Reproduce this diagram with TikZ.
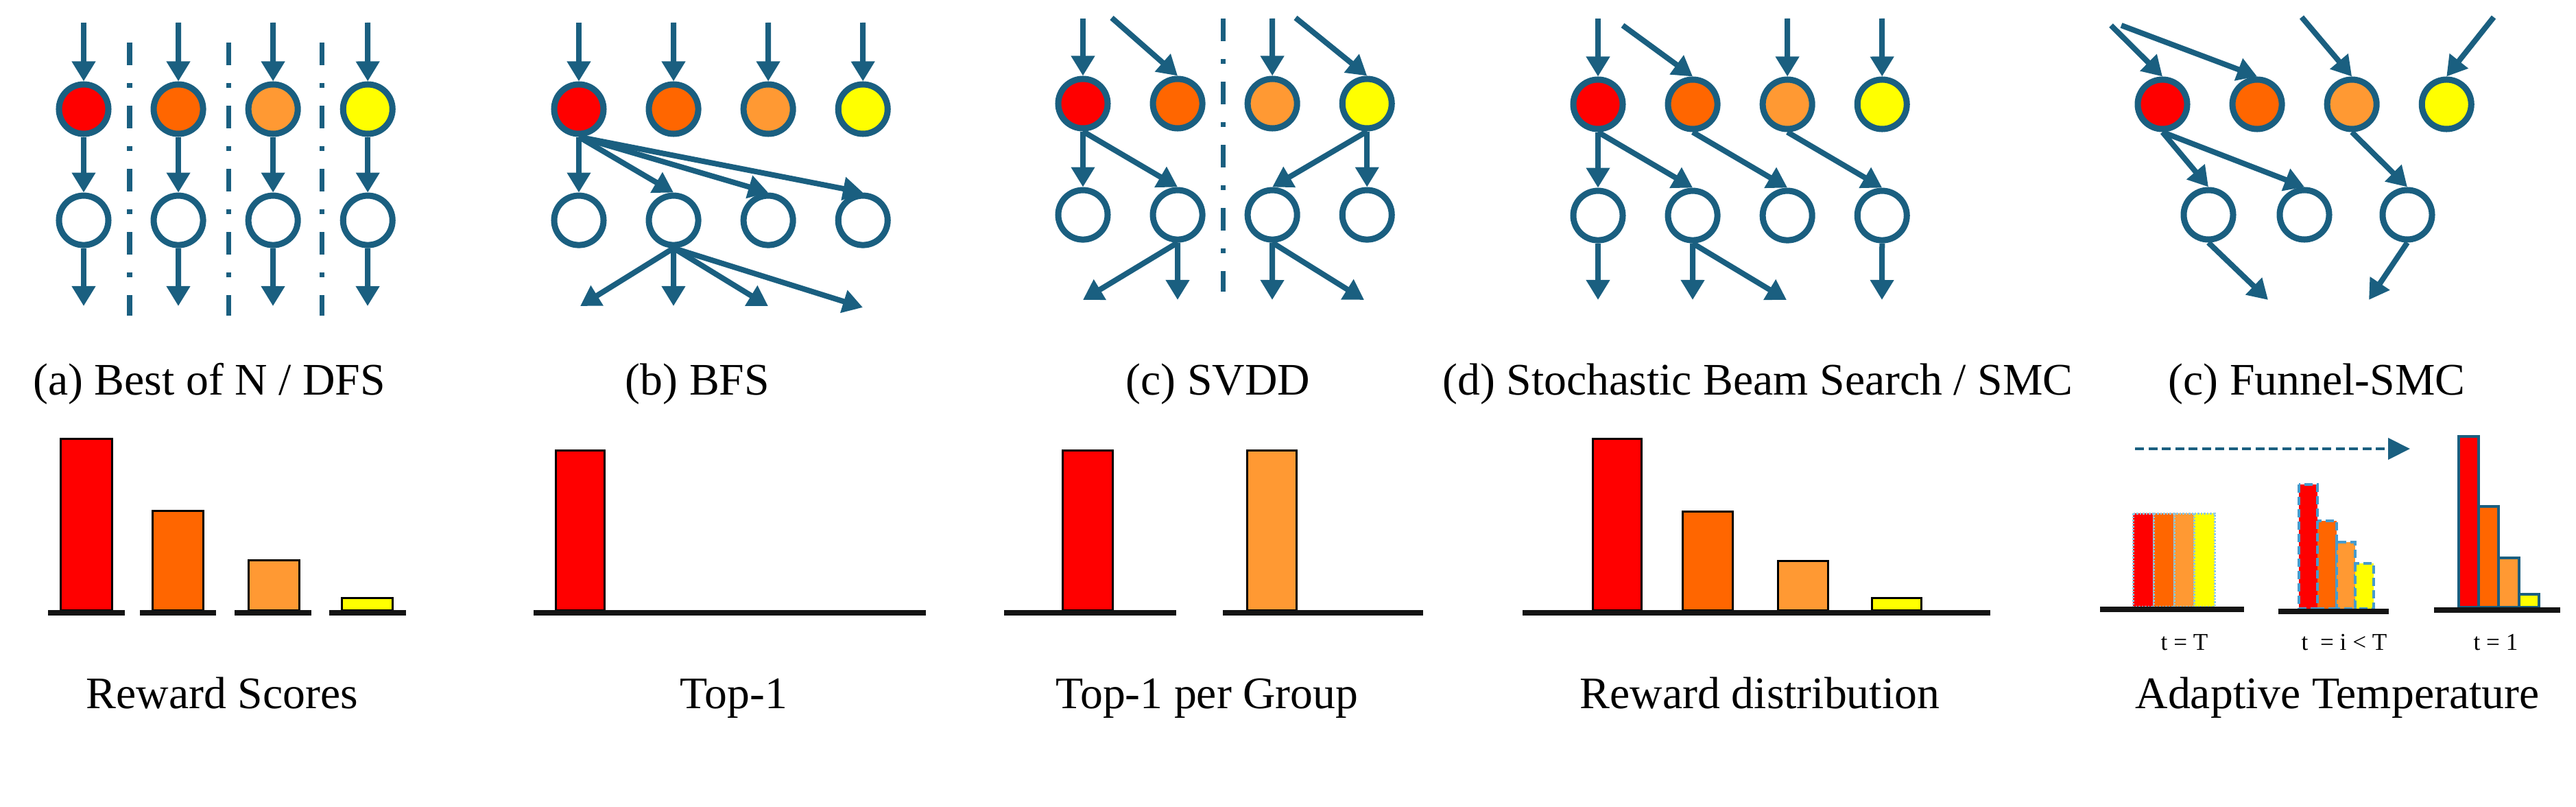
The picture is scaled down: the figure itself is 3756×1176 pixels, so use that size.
\documentclass[tikz,border=0pt]{standalone}
\usepackage{fontspec}
\setmainfont{Liberation Serif}
\usepackage{tikz}
\usetikzlibrary{arrows.meta}

\definecolor{edgeblue}{RGB}{26,95,128}
\definecolor{redbar}{RGB}{255,0,0}
\definecolor{orangebar}{RGB}{255,102,0}
\definecolor{lightbar}{RGB}{255,153,51}
\definecolor{yellowbar}{RGB}{255,255,0}
\definecolor{dotblue}{RGB}{140,200,232}
\definecolor{dashblue}{RGB}{70,155,205}

\begin{document}
\begin{tikzpicture}[x=0.01cm,y=-0.01cm,->,>={Triangle[width=0.33cm,length=0.29cm]},
  line width=0.08cm,node distance=1.38cm,
  main node/.style={circle,draw=edgeblue,line width=0.09cm,minimum size=0.72cm,inner sep=0pt},
  empty node/.style={main node,fill=white}]
  \tikzset{LinkStyle/.style = {color=edgeblue},
    SplitStyle/.style = {-,draw=edgeblue,line width=0.07cm,dash pattern=on 0.33cm off 0.26cm on 0.07cm off 0.26cm},
    BarStyle/.style = {-,draw=black,line width=0.03cm},
    BaseStyle/.style = {-,draw=black!92,line width=0.08cm},
    CaptionStyle/.style = {anchor=base,font=\fontsize{18.7pt}{22pt}\selectfont},
    TickStyle/.style = {anchor=base,font=\fontsize{10pt}{12pt}\selectfont}}
  \useasboundingbox (0,0) rectangle (3756,1176);

  % (a) best of N / DFS
  \node[main node,fill=redbar] (a1) at (122,159) {};
  \node[main node,fill=orangebar] (a2) [right of=a1] {};
  \node[main node,fill=lightbar] (a3) [right of=a2] {};
  \node[main node,fill=yellowbar] (a4) [right of=a3] {};
  \node[empty node,node distance=1.62cm] (a5) [below of=a1] {};
  \node[empty node,node distance=1.62cm] (a6) [below of=a2] {};
  \node[empty node,node distance=1.62cm] (a7) [below of=a3] {};
  \node[empty node,node distance=1.62cm] (a8) [below of=a4] {};
  \coordinate (ai1) at (122,33);
  \coordinate (ai2) at (260,33);
  \coordinate (ai3) at (398,33);
  \coordinate (ai4) at (536,33);
  \coordinate (ao1) at (122,446);
  \coordinate (ao2) at (260,446);
  \coordinate (ao3) at (398,446);
  \coordinate (ao4) at (536,446);
  \path[LinkStyle]
    (ai1) edge (a1.north)
    (ai2) edge (a2.north)
    (ai3) edge (a3.north)
    (ai4) edge (a4.north)
    (a1.south) edge (a5.north)
    (a2.south) edge (a6.north)
    (a3.south) edge (a7.north)
    (a4.south) edge (a8.north)
    (a5.south) edge (ao1)
    (a6.south) edge (ao2)
    (a7.south) edge (ao3)
    (a8.south) edge (ao4);
  \draw[SplitStyle] (189,62) -- (189,460);
  \draw[SplitStyle] (333,62) -- (333,460);
  \draw[SplitStyle] (469,62) -- (469,460);

  % (b) BFS
  \node[main node,fill=redbar] (b1) at (844,159) {};
  \node[main node,fill=orangebar] (b2) [right of=b1] {};
  \node[main node,fill=lightbar] (b3) [right of=b2] {};
  \node[main node,fill=yellowbar] (b4) [right of=b3] {};
  \node[empty node,node distance=1.62cm] (b5) [below of=b1] {};
  \node[empty node,node distance=1.62cm] (b6) [below of=b2] {};
  \node[empty node,node distance=1.62cm] (b7) [below of=b3] {};
  \node[empty node,node distance=1.62cm] (b8) [below of=b4] {};
  \coordinate (bi1) at (844,33);
  \coordinate (bi2) at (982,33);
  \coordinate (bi3) at (1120,33);
  \coordinate (bi4) at (1258,33);
  \coordinate (bo1) at (846,446);
  \coordinate (bo2) at (982,446);
  \coordinate (bo3) at (1120,446);
  \coordinate (bo4) at (1258,448);
  \path[LinkStyle]
    (bi1) edge (b1.north)
    (bi2) edge (b2.north)
    (bi3) edge (b3.north)
    (bi4) edge (b4.north)
    (b1.south) edge (b5.north)
    (b1.south) edge (b6.north)
    (b1.south) edge (b7.north)
    (b1.south) edge (b8.north)
    (b6.south) edge (bo1)
    (b6.south) edge (bo2)
    (b6.south) edge (bo3)
    (b6.south) edge (bo4);

  % (c) SVDD
  \node[main node,fill=redbar] (c1) at (1579,151) {};
  \node[main node,fill=orangebar] (c2) [right of=c1] {};
  \node[main node,fill=lightbar] (c3) [right of=c2] {};
  \node[main node,fill=yellowbar] (c4) [right of=c3] {};
  \node[empty node,node distance=1.62cm] (c5) [below of=c1] {};
  \node[empty node,node distance=1.62cm] (c6) [below of=c2] {};
  \node[empty node,node distance=1.62cm] (c7) [below of=c3] {};
  \node[empty node,node distance=1.62cm] (c8) [below of=c4] {};
  \coordinate (ci1) at (1579,27);
  \coordinate (ci2) at (1621,26);
  \coordinate (ci3) at (1855,27);
  \coordinate (ci4) at (1889,26);
  \coordinate (co1) at (1579,437);
  \coordinate (co2) at (1717,437);
  \coordinate (co3) at (1855,437);
  \coordinate (co4) at (1989,437);
  \path[LinkStyle]
    (ci1) edge (c1.north)
    (ci2) edge (c2.north)
    (ci3) edge (c3.north)
    (ci4) edge (c4.north)
    (c1.south) edge (c5.north)
    (c1.south) edge (c6.north)
    (c4.south) edge (c7.north)
    (c4.south) edge (c8.north)
    (c6.south) edge (co1)
    (c6.south) edge (co2)
    (c7.south) edge (co3)
    (c7.south) edge (co4);
  \draw[SplitStyle] (1783,27) -- (1783,425);

  % (d) stochastic beam search / SMC
  \node[main node,fill=redbar] (d1) at (2330,152) {};
  \node[main node,fill=orangebar] (d2) [right of=d1] {};
  \node[main node,fill=lightbar] (d3) [right of=d2] {};
  \node[main node,fill=yellowbar] (d4) [right of=d3] {};
  \node[empty node,node distance=1.62cm] (d5) [below of=d1] {};
  \node[empty node,node distance=1.62cm] (d6) [below of=d2] {};
  \node[empty node,node distance=1.62cm] (d7) [below of=d3] {};
  \node[empty node,node distance=1.62cm] (d8) [below of=d4] {};
  \coordinate (di1) at (2330,27);
  \coordinate (di2) at (2366,37);
  \coordinate (di3) at (2606,27);
  \coordinate (di4) at (2744,27);
  \coordinate (do1) at (2330,437);
  \coordinate (do2) at (2468,437);
  \coordinate (do3) at (2605,437);
  \coordinate (do4) at (2744,437);
  \path[LinkStyle]
    (di1) edge (d1.north)
    (di2) edge (d2.north)
    (di3) edge (d3.north)
    (di4) edge (d4.north)
    (d1.south) edge (d5.north)
    (d1.south) edge (d6.north)
    (d2.south) edge (d7.north)
    (d3.south) edge (d8.north)
    (d5.south) edge (do1)
    (d6.south) edge (do2)
    (d6.south) edge (do3)
    (d8.south) edge (do4);

  % (e) funnel-SMC
  \node[main node,fill=redbar] (e1) at (3153,152) {};
  \node[main node,fill=orangebar] (e2) [right of=e1] {};
  \node[main node,fill=lightbar] (e3) [right of=e2] {};
  \node[main node,fill=yellowbar] (e4) [right of=e3] {};
  \node[empty node] (e5) at (3220,313) {};
  \node[empty node] (e6) at (3360,313) {};
  \node[empty node] (e7) at (3510,313) {};
  \coordinate (ei1) at (3078,37);
  \coordinate (ei2) at (3093,37);
  \coordinate (ei3) at (3356,25);
  \coordinate (ei4) at (3636,25);
  \coordinate (eo1) at (3307,437);
  \coordinate (eo2) at (3454,437);
  \path[LinkStyle]
    (ei1) edge (e1.north)
    (ei2) edge (e2.north)
    (ei3) edge (e3.north)
    (ei4) edge (e4.north)
    (e1.south) edge (e5.north)
    (e1.south) edge (e6.north)
    (e3.south) edge (e7.north)
    (e5.south) edge (eo1)
    (e7.south) edge (eo2);

  % captions
  \node[CaptionStyle] (capa) at (305,575) {(a) Best of N / DFS};
  \node[CaptionStyle] (capb) at (1017,575) {(b) BFS};
  \node[CaptionStyle] (capc) at (1776,575) {(c) SVDD};
  \node[CaptionStyle] (capd) at (2563,575) {(d) Stochastic Beam Search / SMC};
  \node[CaptionStyle] (cape) at (3378,575) {(c) Funnel-SMC};
  \node[CaptionStyle] (suba) at (324,1032) {Reward Scores};
  \node[CaptionStyle] (subb) at (1070,1032) {Top-1};
  \node[CaptionStyle] (subc) at (1760,1032) {Top-1 per Group};
  \node[CaptionStyle] (subd) at (2566,1032) {Reward distribution};
  \node[CaptionStyle] (sube) at (3408,1032) {Adaptive Temperature};

  % reward bars
  \draw[BarStyle,fill=redbar] (88,639) rectangle (163,889);
  \draw[BarStyle,fill=orangebar] (222,744) rectangle (296,889);
  \draw[BarStyle,fill=lightbar] (362,816) rectangle (436,889);
  \draw[BarStyle,fill=yellowbar] (498,871) rectangle (572,889);
  \draw[BaseStyle] (70,893) -- (182,893);
  \draw[BaseStyle] (204,893) -- (315,893);
  \draw[BaseStyle] (342,893) -- (454,893);
  \draw[BaseStyle] (480,893) -- (592,893);

  \draw[BarStyle,fill=redbar] (810,656) rectangle (881,889);
  \draw[BaseStyle] (778,893) -- (1350,893);

  \draw[BarStyle,fill=redbar] (1549,656) rectangle (1622,889);
  \draw[BarStyle,fill=lightbar] (1818,656) rectangle (1890,889);
  \draw[BaseStyle] (1464,893) -- (1715,893);
  \draw[BaseStyle] (1783,893) -- (2075,893);

  \draw[BarStyle,fill=redbar] (2322,639) rectangle (2393,889);
  \draw[BarStyle,fill=orangebar] (2453,745) rectangle (2526,889);
  \draw[BarStyle,fill=lightbar] (2592,817) rectangle (2665,889);
  \draw[BarStyle,fill=yellowbar] (2729,871) rectangle (2801,889);
  \draw[BaseStyle] (2220,893) -- (2902,893);

  % temperature bars
  \coordinate (ts) at (3113,654);
  \coordinate (te) at (3514,654);
  \draw[draw=edgeblue,line width=0.04cm,dash pattern=on 0.13cm off 0.065cm,
    -{Triangle[width=0.31cm,length=0.32cm]}] (ts) -- (te);
  \tikzset{DotBar/.style = {-,draw=dotblue,line width=0.03cm,dash pattern=on 0.025cm off 0.02cm},
    DashBar/.style = {-,draw=dashblue,line width=0.04cm,dash pattern=on 0.12cm off 0.06cm},
    SolidBar/.style = {-,draw=edgeblue,line width=0.035cm}}
  \draw[DotBar,fill=redbar] (3110,748) rectangle (3140,884);
  \draw[DotBar,fill=orangebar] (3140,748) rectangle (3170,884);
  \draw[DotBar,fill=lightbar] (3170,748) rectangle (3199,884);
  \draw[DotBar,fill=yellowbar] (3199,748) rectangle (3229,884);
  \draw[BaseStyle] (3062,888) -- (3272,888);
  \draw[DashBar,fill=redbar] (3352,706) rectangle (3379,887);
  \draw[DashBar,fill=orangebar] (3379,759) rectangle (3407,887);
  \draw[DashBar,fill=lightbar] (3407,790) rectangle (3434,887);
  \draw[DashBar,fill=yellowbar] (3434,821) rectangle (3461,887);
  \draw[BaseStyle] (3322,891) -- (3483,891);
  \draw[SolidBar,fill=redbar] (3585,636) rectangle (3614,885);
  \draw[SolidBar,fill=orangebar] (3614,738) rectangle (3643,885);
  \draw[SolidBar,fill=lightbar] (3643,813) rectangle (3673,885);
  \draw[SolidBar,fill=yellowbar] (3673,866) rectangle (3702,885);
  \draw[BaseStyle] (3549,889) -- (3733,889);
  \node[TickStyle] (tT) at (3185,947) {t = T};
  \node[TickStyle] (ti) at (3418,947) {t \ = i < T};
  \node[TickStyle] (t1) at (3639,947) {t = 1};
\end{tikzpicture}
\end{document}
